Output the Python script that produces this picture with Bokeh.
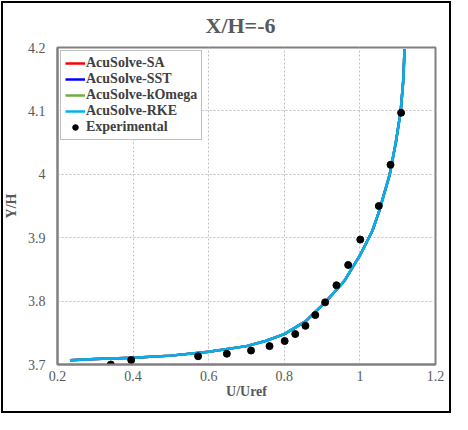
from bokeh.embed import file_html
from bokeh.resources import INLINE
from bokeh.models import FixedTicker, Legend, LegendItem
from bokeh.plotting import figure

# model curves (all four turbulence models sit on the same curve)
model_names = ["AcuSolve-SA", "AcuSolve-SST", "AcuSolve-kOmega", "AcuSolve-RKE"]
model_colors = ["#FF0000", "#0000FF", "#70AD47", "#00B0F0"]
curve_u = [0.233, 0.30, 0.40, 0.50, 0.60, 0.70, 0.75, 0.80, 0.856, 0.908, 0.959,
           1.000, 1.033, 1.050, 1.079, 1.095, 1.108, 1.115, 1.118]
curve_y = [3.7066, 3.7085, 3.7107, 3.714, 3.720, 3.729, 3.737, 3.748, 3.768, 3.798, 3.832,
           3.872, 3.911, 3.940, 4.000, 4.050, 4.100, 4.150, 4.197]

# experimental points
exp_u = [0.341, 0.395, 0.572, 0.648, 0.712, 0.761, 0.801, 0.829, 0.856, 0.882,
         0.908, 0.938, 0.969, 1.001, 1.050, 1.081, 1.109]
exp_y = [3.700, 3.707, 3.713, 3.717, 3.722, 3.729, 3.737, 3.748, 3.761, 3.778,
         3.798, 3.825, 3.857, 3.897, 3.950, 4.015, 4.097]

x_ticks = [0.2, 0.4, 0.6, 0.8, 1.0, 1.2]
x_labels = ["0.2", "0.4", "0.6", "0.8", "1", "1.2"]
y_ticks = [3.7, 3.8, 3.9, 4.0, 4.1, 4.2]
y_labels = ["3.7", "3.8", "3.9", "4", "4.1", "4.2"]

FONT = "Liberation Serif"
GREY = "#595959"

p = figure(width=452, height=414, x_range=(0.2, 1.2), y_range=(3.7, 4.2),
           output_backend="svg", toolbar_location=None,
           min_border_left=54, min_border_right=17, min_border_top=46, min_border_bottom=50)
# black frame round the whole chart: inset shadows under a see-through border area
p.styles = {"background-color": "white",
            "box-shadow": "inset 0 0 0 1px white, inset 0 0 0 3px black"}
p.background_fill_color = "white"
p.border_fill_alpha = 0
p.outline_line_color = "#808080"
p.outline_line_width = 2

p.title.text = "X/H=-6"
p.title.align = "left"
p.title.offset = 148
p.title.standoff = 20
p.title.text_font = FONT
p.title.text_font_size = "22px"
p.title.text_font_style = "bold"
p.title.text_color = GREY

p.xaxis.ticker = FixedTicker(ticks=x_ticks)
p.yaxis.ticker = FixedTicker(ticks=y_ticks)
p.xaxis.major_label_overrides = dict(zip(x_ticks, x_labels))
p.yaxis.major_label_overrides = dict(zip(y_ticks, y_labels))
p.xaxis.axis_label = "U/Uref"
p.yaxis.axis_label = "Y/H"
for ax in (p.xaxis, p.yaxis):
    ax.axis_line_color = "#808080"
    ax.axis_line_width = 2
    ax.major_tick_line_color = None
    ax.minor_tick_line_color = None
    ax.major_tick_out = 0
    ax.major_tick_in = 0
    ax.major_label_text_font = FONT
    ax.major_label_text_font_size = "14px"
    ax.major_label_text_color = GREY
    ax.axis_label_text_font = FONT
    ax.axis_label_text_font_size = "14px"
    ax.axis_label_text_font_style = "bold"
    ax.axis_label_text_color = GREY
p.xaxis.major_label_standoff = 6
p.xaxis.axis_label_standoff = 0
p.yaxis.major_label_standoff = 12
p.yaxis.axis_label_standoff = 6

p.grid.grid_line_color = "#BFBFBF"
p.grid.grid_line_dash = "2 2"
p.grid.grid_line_width = 1

items = []
for name, color in zip(model_names, model_colors):
    r = p.line(curve_u, curve_y, line_color=color, line_width=2.5)
    items.append(LegendItem(label=name, renderers=[r]))
pts = p.scatter(exp_u, exp_y, size=7, color="black")
items.append(LegendItem(label="Experimental", renderers=[pts]))

legend = Legend(items=items, location="top_left")
legend.margin = 3
legend.padding = 4
legend.spacing = 0
legend.glyph_width = 20
legend.glyph_height = 14
legend.label_height = 14
legend.label_standoff = 1
legend.label_text_font = FONT
legend.label_text_font_size = "14px"
legend.label_text_font_style = "bold"
legend.label_text_line_height = 1.0
legend.label_text_color = "#404040"
legend.border_line_color = "#808080"
legend.border_line_width = 1.5
legend.background_fill_color = "white"
legend.background_fill_alpha = 1
p.add_layout(legend)

open("out.html", "w").write(file_html(p, INLINE))
